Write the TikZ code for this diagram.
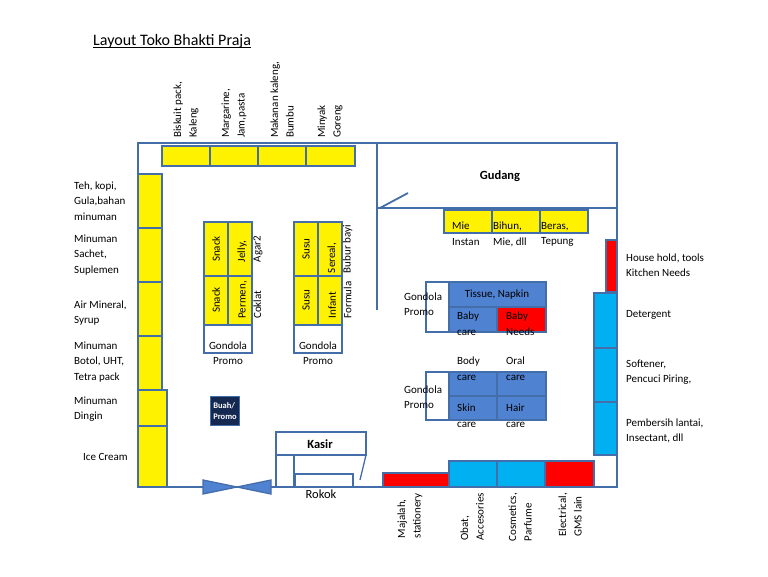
\documentclass[tikz,border=0pt]{standalone}
\usepackage{fontspec}
\setmainfont{Carlito}
\definecolor{wallc}{RGB}{68,110,170}
\definecolor{lblue}{RGB}{0,176,240}
\definecolor{mblue}{RGB}{80,130,210}
\definecolor{navy}{RGB}{20,40,80}
\begin{document}
\begin{tikzpicture}[x=1pt,y=1pt,
  wall/.style={draw=wallc,line width=1.8pt},
  sh/.style={draw=wallc,line width=1.3pt},
  yl/.style={sh,fill=yellow},
  bl/.style={sh,fill=lblue},
  db/.style={sh,fill=mblue},
  rd/.style={sh,fill=red},
  lbl/.style={font=\fontsize{11}{15.5}\selectfont,align=left,inner sep=0pt},
  rl/.style={lbl,rotate=90}]
\useasboundingbox (0,0) rectangle (768,-576);
\node[anchor=base west,font=\fontsize{16}{18}\selectfont,inner sep=0pt] (title) at (93,-45) {Layout Toko Bhakti Praja};
\draw[line width=0.8pt] ([yshift=-2.5pt]title.base west) -- ([yshift=-2.5pt]title.base east);
% walls
\draw[wall] (138,-143) -- (617,-143) -- (617,-487) -- (138,-487) -- cycle;
\draw[wall] (377,-143) -- (377,-310);
\draw[wall] (377,-208) -- (617,-208);
\draw[wall] (380,-208) -- (408,-193);
\node[font=\bfseries\fontsize{12.5}{14}\selectfont] (gud) at (500,-176) {Gudang};
% top shelf
\foreach \a/\b in {162/210,210/258,258/306,306/355} \draw[yl] (\a,-146) rectangle (\b,-166);
% left shelf
\foreach \a/\b in {174/228,228/282,282/336,336/390} \draw[yl] (138,-\a) rectangle (162,-\b);
\draw[yl] (138,-390) rectangle (167,-426);
\draw[yl] (138,-426) rectangle (167,-487);
% gudang shelf
\foreach \a/\b in {444/492,492/540,540/588} \draw[yl] (\a,-210) rectangle (\b,-233);
\node[lbl,anchor=north west] (mi) at (452,-222) {Mie\\Instan};
\node[lbl,anchor=north west] (bi) at (493,-222) {Bihun,\\Mie, dll};
\node[lbl,anchor=north west] (be) at (541,-222) {Beras,\\Tepung};
% right shelf
\draw[rd] (606,-240) rectangle (617,-292);
\foreach \a/\b in {293/348,348/402,402/455} \draw[bl] (594,-\a) rectangle (617,-\b);
% bottom
\draw[rd] (383,-473) rectangle (449,-487);
\draw[bl] (449,-461) rectangle (497,-487);
\draw[bl] (497,-461) rectangle (545,-487);
\draw[rd] (545,-461) rectangle (594,-487);
% gondolas right
\draw[sh,fill=white] (426,-282) rectangle (449,-332);
\draw[db] (449,-282) rectangle (546,-307);
\draw[db] (449,-307) rectangle (497,-332);
\draw[rd] (497,-307) rectangle (546,-332);
\draw[sh,fill=white] (426,-372) rectangle (449,-420);
\foreach \a/\b in {449/497,497/546} \foreach \c/\d in {372/396,396/420} \draw[db] (\a,-\c) rectangle (\b,-\d);
\node[lbl] (tn) at (497,-295) {Tissue, Napkin};
\node[lbl,anchor=north west] (bc) at (457,-312) {Baby\\care};
\node[lbl,anchor=north west] (bn) at (506,-312) {Baby\\Needs};
\node[lbl,anchor=north west] (bo) at (457,-357) {Body\\care};
\node[lbl,anchor=north west] (oc) at (506,-357) {Oral\\care};
\node[lbl,anchor=north west] (sk) at (457,-404) {Skin\\care};
\node[lbl,anchor=north west] (hc) at (506,-404) {Hair\\care};
\node[lbl,anchor=west] (gp1) at (404,-304) {Gondola\\Promo};
\node[lbl,anchor=west] (gp2) at (404,-397) {Gondola\\Promo};
% gondolas left
\foreach \x in {204,294} {
  \draw[yl] (\x,-222) rectangle (\x+24,-276);
  \draw[yl] (\x+24,-222) rectangle (\x+48,-276);
  \draw[yl] (\x,-276) rectangle (\x+24,-325);
  \draw[yl] (\x+24,-276) rectangle (\x+48,-325);
  \draw[sh,fill=white] (\x,-325) rectangle (\x+48,-353);
  \node[lbl] at (\x+24,-346) {Gondola};
  \node[lbl] at (\x+24,-361) {Promo};
}
\node[rl] (s1) at (216,-249) {Snack};
\node[rl] (s2) at (216,-300) {Snack};
\node[rl] (j) at (250,-249) {Jelly,\\Agar2};
\node[rl] (p) at (250,-300) {Permen,\\Coklat};
\node[rl] (u1) at (306,-249) {Susu};
\node[rl] (u2) at (306,-300) {Susu};
\node[rl] (se) at (340,-249) {Sereal,\\Bubur bayi};
\node[rl] (inf) at (340,-300) {Infant\\Formula};
% buah
\node[draw=wallc,fill=navy,minimum size=29pt,inner sep=1pt,text=white,font=\bfseries\fontsize{8.5}{11}\selectfont,align=left] (bu) at (225,-411) {Buah/\\Promo};
% kasir
\draw[sh] (276,-487) -- (276,-432) -- (366,-432) -- (366,-455) -- (276,-455);
\draw[sh] (294,-455) -- (294,-487);
\draw[sh] (295,-487) -- (295,-474) -- (353,-474) -- (353,-487);
\draw[sh] (366,-455) -- (360,-480);
\node[font=\bfseries\fontsize{12.5}{14}\selectfont] (ka) at (320,-444) {Kasir};
\node[lbl,font=\fontsize{12.5}{14}\selectfont] (ro) at (321,-494) {Rokok};
% door
\draw[sh,fill=mblue] (203,-480) -- (237,-487) -- (271,-480) -- (271,-494) -- (237,-487) -- (203,-494) -- cycle;
% top labels
\node[rl,anchor=west] at (186,-138) {Biskuit pack,\\Kaleng};
\node[rl,anchor=west] at (234,-138) {Margarine,\\Jam,pasta};
\node[rl,anchor=west] at (282,-138) {Makanan kaleng,\\Bumbu};
\node[rl,anchor=west] at (330,-138) {Minyak\\Goreng};
% bottom labels
\node[rl,anchor=east] at (410,-493) {Majalah,\\stationery};
\node[rl,anchor=east] at (472,-493) {Obat,\\Accesories};
\node[rl,anchor=east] at (520,-493) {Cosmetics,\\Parfume};
\node[rl,anchor=east] at (570,-493) {Electrical,\\GMS lain};
% left labels
\node[lbl,anchor=west] at (74,-201) {Teh, kopi,\\Gula,bahan\\minuman};
\node[lbl,anchor=west] at (74,-255) {Minuman\\Sachet,\\Suplemen};
\node[lbl,anchor=west] at (74,-313) {Air Mineral,\\Syrup};
\node[lbl,anchor=west] at (74,-362) {Minuman\\Botol, UHT,\\Tetra pack};
\node[lbl,anchor=west] at (74,-409) {Minuman\\Dingin};
\node[lbl,anchor=west] at (83,-457) {Ice Cream};
% right labels
\node[lbl,anchor=west] at (626,-265) {House hold, tools\\Kitchen Needs};
\node[lbl,anchor=west] at (626,-315) {Detergent};
\node[lbl,anchor=west] at (626,-372) {Softener,\\Pencuci Piring,};
\node[lbl,anchor=west] at (626,-431) {Pembersih lantai,\\Insectant, dll};
\end{tikzpicture}
\end{document}
